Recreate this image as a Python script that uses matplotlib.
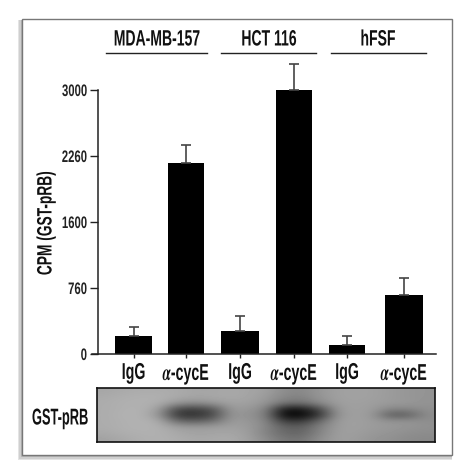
import matplotlib
matplotlib.use("Agg")
import matplotlib.pyplot as plt
from matplotlib.patches import Rectangle
from matplotlib.patheffects import AbstractPathEffect
from matplotlib.transforms import Affine2D
import numpy as np

# Data
groups = ["MDA-MB-157", "HCT 116", "hFSF"]
labels = ["IgG", r"$\alpha$-cycE", "IgG", r"$\alpha$-cycE", "IgG", r"$\alpha$-cycE"]
values = [205, 2170, 260, 3000, 100, 670]
errors = [102, 205, 170, 295, 105, 195]
tick_pos = [0, 750, 1500, 2250, 3000]
tick_labels = ["0", "760", "1600", "2260", "3000"]

# Gray levels of the blot panel, rows top to bottom
blot = [
    [166, 170, 172, 172, 170, 165, 165, 168, 165, 160, 140, 135, 150, 160, 162, 160, 155, 150, 148],
    [170, 174, 176, 176, 170, 165, 167, 168, 165, 155, 135, 130, 148, 160, 162, 160, 155, 150, 148],
    [172, 176, 176, 174, 150, 140, 150, 162, 160, 150, 118, 112, 138, 158, 160, 158, 154, 152, 146],
    [172, 176, 178, 160, 72, 64, 82, 155, 152, 135, 24, 22, 72, 154, 160, 156, 135, 135, 144],
    [172, 178, 178, 150, 52, 48, 68, 150, 147, 128, 6, 4, 48, 150, 160, 154, 88, 92, 140],
    [172, 176, 178, 172, 105, 95, 110, 155, 152, 135, 60, 56, 105, 156, 160, 155, 148, 148, 142],
    [172, 176, 178, 176, 160, 155, 158, 160, 156, 135, 100, 95, 128, 156, 160, 155, 152, 148, 144],
    [168, 174, 176, 176, 168, 162, 164, 166, 158, 130, 105, 100, 132, 158, 158, 152, 148, 142, 140],
    [162, 168, 174, 176, 172, 167, 168, 170, 160, 140, 118, 115, 142, 158, 156, 148, 144, 138, 136],
]

bar_x = [133.5, 186, 240, 294, 347, 404]
bar_w = [37, 36, 38, 36, 36, 38]
group_lines = [(106, 207), (221, 316), (331, 426)]
group_text = [157, 269, 378]


# The original uses a condensed face, none is installed so squeeze the glyphs
class Squeeze(AbstractPathEffect):
    def __init__(self, sx, sy, cx, cy):
        super().__init__()
        self.sx, self.sy, self.cx, self.cy = sx, sy, cx, cy

    def draw_path(self, renderer, gc, tpath, affine, rgbFace=None):
        squeeze = (Affine2D().translate(-self.cx, -self.cy)
                   .scale(self.sx, self.sy).translate(self.cx, self.cy))
        renderer.draw_path(gc, tpath, affine + squeeze, rgbFace)


def squeeze_text(text, factor, anchor="center"):
    box = text.get_window_extent()
    cx = box.x1 if anchor == "right" else (box.x0 + box.x1) / 2
    cy = (box.y0 + box.y1) / 2
    if text.get_rotation() == 90:
        text.set_path_effects([Squeeze(1, factor, cx, cy)])
    else:
        text.set_path_effects([Squeeze(factor, 1, cx, cy)])


plt.rcParams["font.family"] = ["Liberation Sans", "DejaVu Sans"]
plt.rcParams["mathtext.fontset"] = "stix"
plt.rcParams["font.weight"] = "bold"

fig = plt.figure(figsize=(4.74, 4.74), dpi=100)

# Page layer in pixel coordinates for frame, shadow and labels
page = fig.add_axes([0, 0, 1, 1])
page.set_xlim(0, 474)
page.set_ylim(474, 0)
page.axis("off")
for grow, shade in [(4, "#e4e4e4"), (2.5, "#cfcfcf"), (1, "#b5b5b5")]:
    page.add_patch(Rectangle((22 - grow, 20), 430 + grow, 436 + grow, fc=shade, ec="none"))
page.add_patch(Rectangle((22.5, 19), 429.5, 436, fc="white", ec="#777777", lw=1.0))

squeezed = []
for (x0, x1), xt, name in zip(group_lines, group_text, groups):
    page.plot([x0, x1], [52.5, 52.5], color="#222222", lw=1.0)
    squeezed.append((page.text(xt, 40, name, ha="center", va="center", fontsize=16, color="#111111"), 0.63))
squeezed.append((page.text(46, 223, "CPM (GST-pRB)", rotation=90, ha="center", va="center",
                           fontsize=15, color="#111111"), 0.66))
squeezed.append((page.text(60, 418, "GST-pRB", ha="center", va="center", fontsize=16.5, color="#111111"), 0.56))

# Bar chart, x data in pixels, y zero at 354 and 3000 at 90
ax = fig.add_axes([92 / 474, 1 - 354 / 474, (436 - 92) / 474, (354 - 60) / 474])
ax.patch.set_alpha(0)
ax.set_xlim(92, 436)
ax.set_ylim(0, 3000 * 294 / 264)
ax.bar(bar_x, values, width=bar_w, color="black")
ax.errorbar(bar_x, values, yerr=[[0] * 6, errors], fmt="none", ecolor="#444444",
            elinewidth=1.2, capsize=3.5, capthick=1.2)
for side in ["top", "right"]:
    ax.spines[side].set_visible(False)
ax.spines["left"].set_position(("data", 98))
ax.spines["left"].set_bounds(0, 3000)
for side in ["left", "bottom"]:
    ax.spines[side].set_linewidth(1.1)
    ax.spines[side].set_color("#222222")
ax.set_yticks(tick_pos)
ax.set_yticklabels(tick_labels, fontsize=12, color="#222222")
ax.tick_params(axis="y", length=6, width=1.0, pad=2, color="#222222")
ax.set_xticks(bar_x)
ax.set_xticklabels(labels, fontsize=16.5, color="#111111")
ax.tick_params(axis="x", length=3, width=1.0, pad=2, color="#222222")

# Blot panel
blot_ax = fig.add_axes([97 / 474, 1 - 442 / 474, 338 / 474, 54 / 474])
blot_ax.imshow(np.array(blot), cmap="gray", vmin=0, vmax=255, aspect="auto", interpolation="bicubic")
blot_ax.set_xticks([])
blot_ax.set_yticks([])
for sp in blot_ax.spines.values():
    sp.set_linewidth(1.2)
    sp.set_color("#111111")

fig.canvas.draw()
for text, factor in squeezed:
    squeeze_text(text, factor)
for text in ax.get_yticklabels():
    squeeze_text(text, 0.68, anchor="right")
for text in ax.get_xticklabels():
    squeeze_text(text, 0.62)

fig.savefig("out.png", dpi=100)
